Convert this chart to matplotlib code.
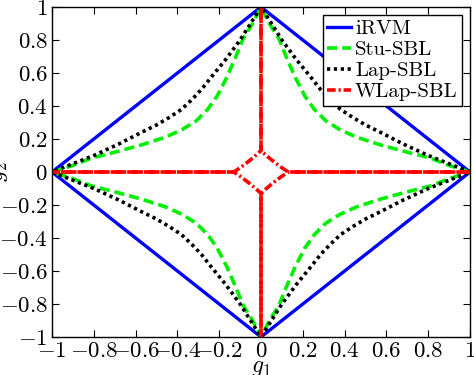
import matplotlib
matplotlib.use('agg')
import matplotlib.pyplot as plt
from matplotlib.ticker import FuncFormatter
import numpy as np

# contour points, first quadrant, from the g1 axis up to the diagonal
# (the curves are symmetric about g1=g2 and about both axes)
irvm_x = [1.0, 0.5]
irvm_y = [0.0, 0.5]
stu_x = [1.0, 0.90, 0.81, 0.70, 0.57, 0.46, 0.38, 0.31]
stu_y = [0.0, 0.04, 0.085, 0.12, 0.165, 0.21, 0.255, 0.31]
lap_x = [1.0, 0.90, 0.80, 0.68, 0.58, 0.50, 0.44, 0.38]
lap_y = [0.0, 0.05, 0.10, 0.17, 0.235, 0.285, 0.33, 0.38]
wlap_x = [1.0, 0.60, 0.13, 0.095, 0.062]
wlap_y = [0.0, 0.0, 0.0, 0.03, 0.062]

labels = ['iRVM', 'Stu-SBL', 'Lap-SBL', 'WLap-SBL']
ticks = [-1, -0.8, -0.6, -0.4, -0.2, 0, 0.2, 0.4, 0.6, 0.8, 1]


def closed_curve(hx, hy):
    # half quadrant -> quadrant -> full closed contour
    hx = np.asarray(hx, float)
    hy = np.asarray(hy, float)
    qx = np.concatenate([hx, hy[::-1][1:]])
    qy = np.concatenate([hy, hx[::-1][1:]])
    xs = np.concatenate([qx, -qx[::-1][1:], -qx[1:], qx[::-1][1:]])
    ys = np.concatenate([qy, qy[::-1][1:], -qy[1:], -qy[::-1][1:]])
    return xs, ys


plt.rcParams['font.family'] = 'cmr10'
plt.rcParams['mathtext.fontset'] = 'cm'
plt.rcParams['axes.unicode_minus'] = True

fig = plt.figure(figsize=(4.74, 3.75), dpi=100)
ax = fig.add_axes([0.1097, 0.1013, 0.8819, 0.88])

x, y = closed_curve(irvm_x, irvm_y)
ax.plot(x, y, color='#0000ff', lw=2.4, label=labels[0])
x, y = closed_curve(stu_x, stu_y)
ax.plot(x, y, color='#00ee00', lw=2.6, dashes=(2.8, 1.4), label=labels[1])
x, y = closed_curve(lap_x, lap_y)
ax.plot(x, y, color='black', lw=2.6, dashes=(0.9, 1.0), label=labels[2])
x, y = closed_curve(wlap_x, wlap_y)
ax.plot(x, y, color='#ff0000', lw=2.6, dashes=(2.4, 0.8, 0.6, 0.8), label=labels[3])

ax.set_xlim(-1, 1)
ax.set_ylim(-1, 1)
ax.set_xticks(ticks)
ax.set_yticks(ticks)
fmt = FuncFormatter(lambda v, p: '$%g$' % (0 if abs(v) < 1e-9 else v))
ax.xaxis.set_major_formatter(fmt)
ax.yaxis.set_major_formatter(fmt)
ax.tick_params(direction='in', top=True, right=True, length=5, width=0.8,
               labelsize=16.5, pad=3)
for s in ax.spines.values():
    s.set_linewidth(1.0)

ax.set_xlabel('$g_1$', fontsize=17, labelpad=-3)
ax.set_ylabel('$g_2$', fontsize=17, labelpad=-8)

leg = ax.legend(loc='upper right', prop={'family': 'cmr10', 'size': 15},
                fancybox=False, framealpha=1, edgecolor='black',
                borderaxespad=0.4, borderpad=0.2, labelspacing=0.12,
                handlelength=1.15, handletextpad=0.2)
leg.get_frame().set_linewidth(1.0)

plt.savefig('out.png', dpi=100)
plt.close('all')
